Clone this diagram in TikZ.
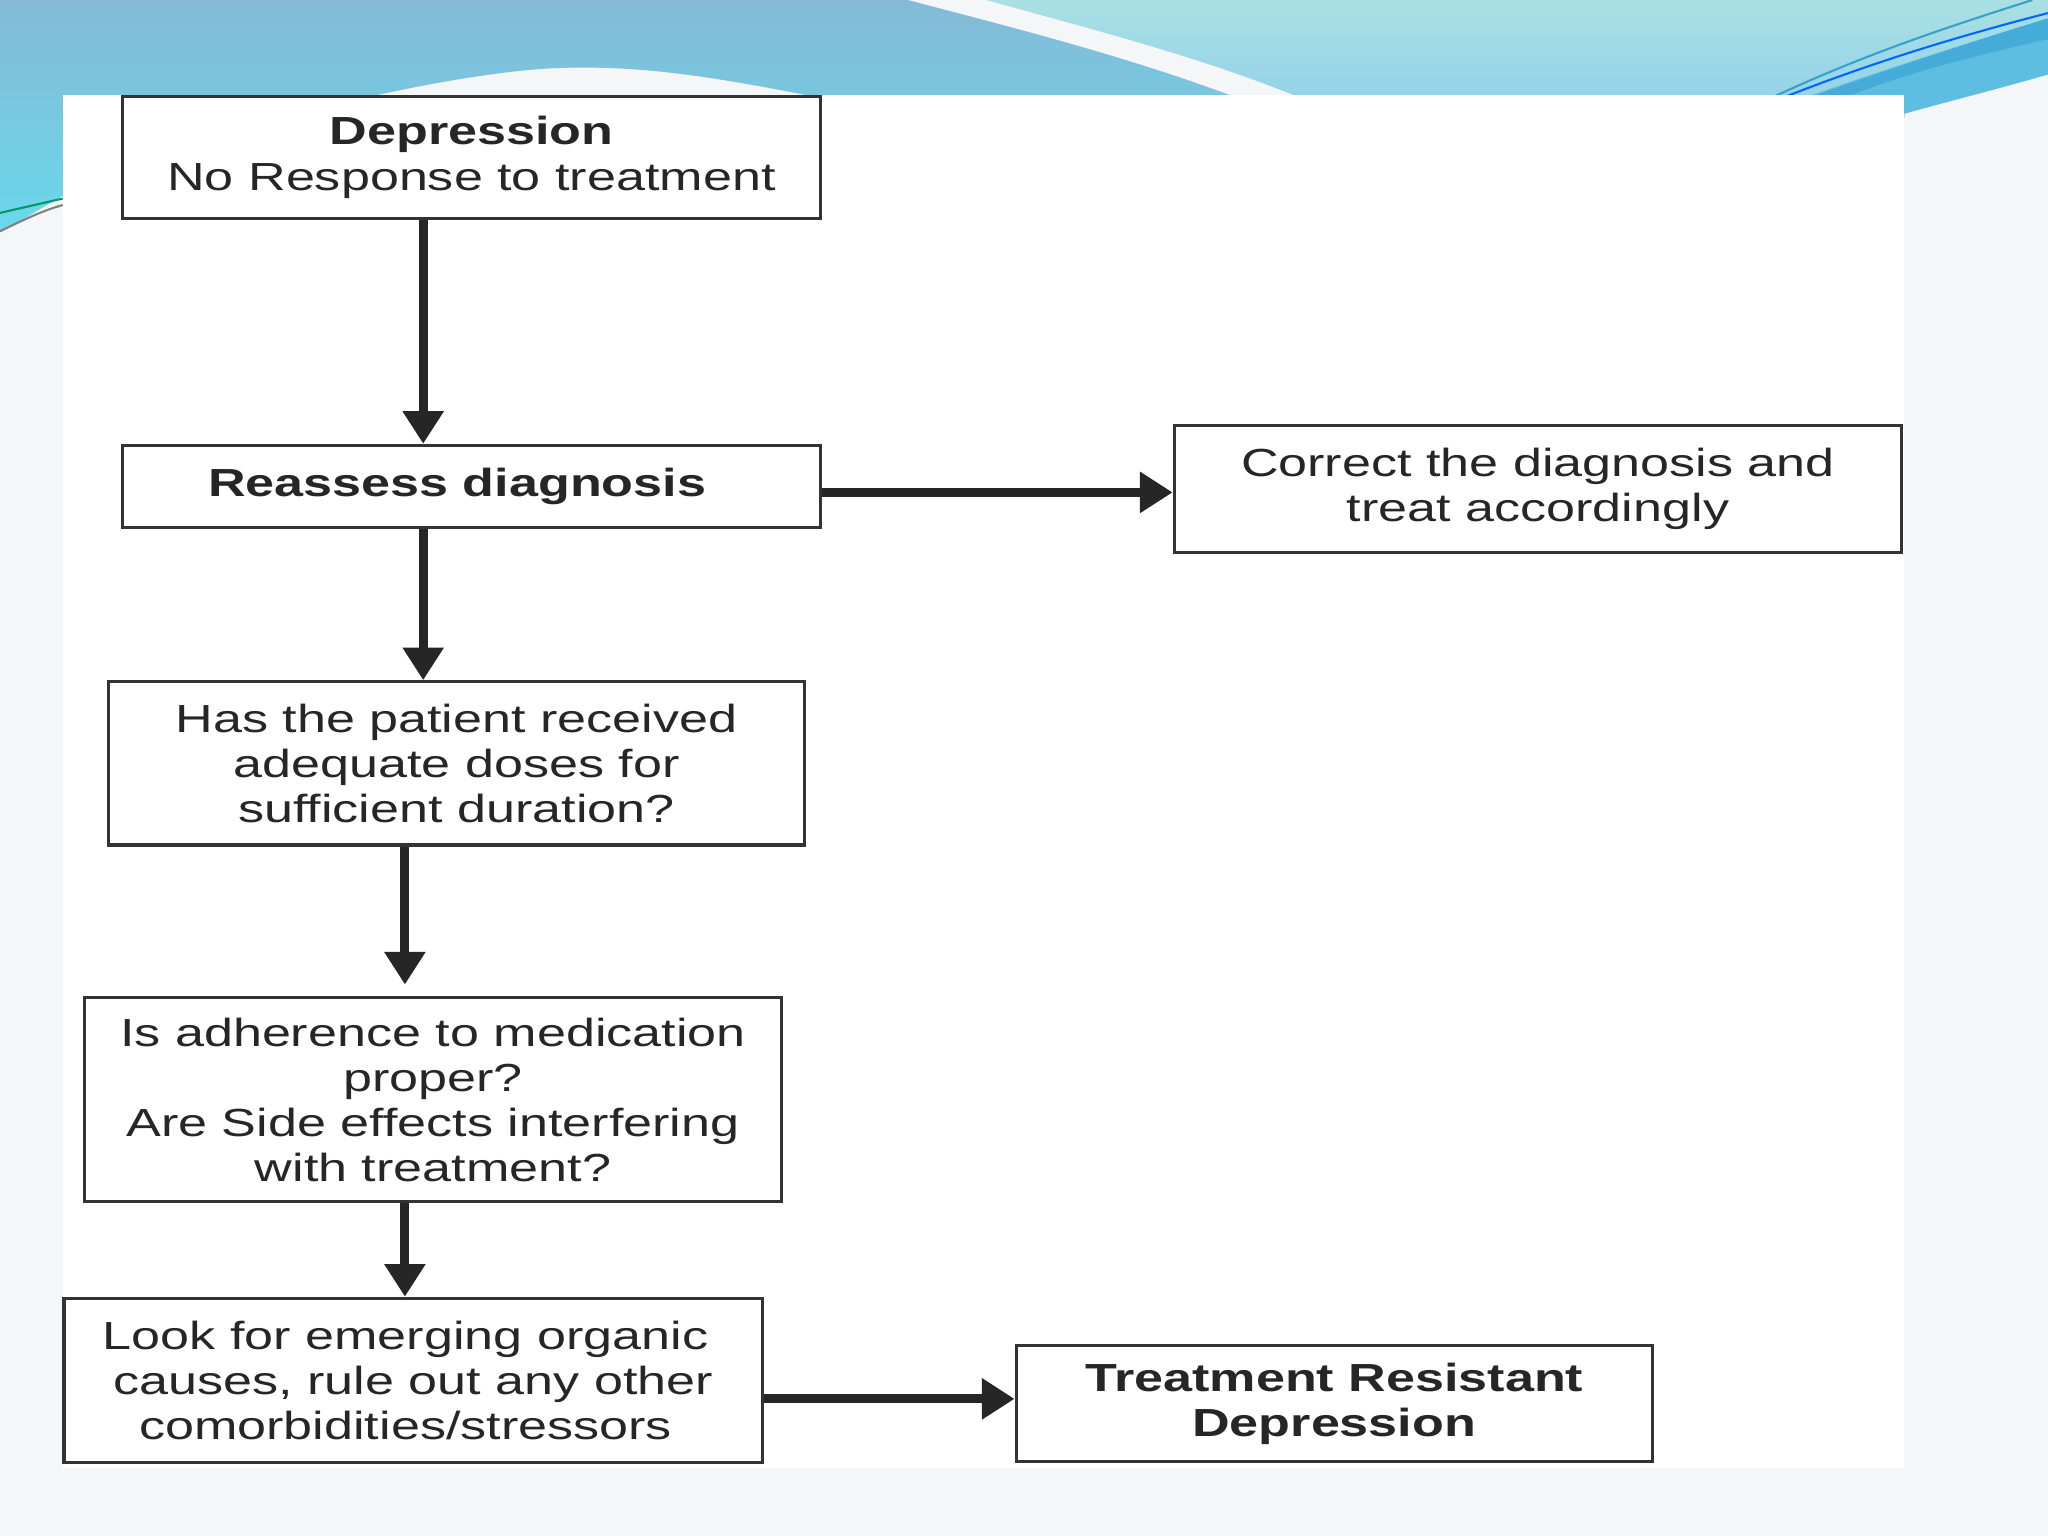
\documentclass[tikz,border=0pt]{standalone}
\usepackage{fontspec}
\setmainfont{Liberation Sans}[FakeStretch=1.33]
\usetikzlibrary{arrows.meta}
\definecolor{slidebg}{HTML}{F4F6F7}
\definecolor{bandtop}{HTML}{84BAD6}
\definecolor{bandlow}{HTML}{6AD8EC}
\definecolor{lighttop}{HTML}{A9E0E3}
\definecolor{lightlow}{HTML}{90D0EA}
\definecolor{wedge}{HTML}{5DBEE1}
\definecolor{wedgedk}{HTML}{45ABD8}
\definecolor{ink}{HTML}{262626}
\definecolor{edge}{HTML}{333333}
\begin{document}
\begin{tikzpicture}[x=0.5pt, y=-0.5pt,
	every node/.append style={text=ink, font=\fontsize{15pt}{17.25pt}\selectfont},
	box/.style={draw=edge, line width=1.2pt, fill=white, align=center, inner sep=0pt},
	flow/.style={line width=3.5pt, color=ink, -{Triangle[width=15pt, length=12.5pt]}}]
\useasboundingbox (0,0) rectangle (1568,1176);
	% slide background
	\fill[slidebg] (0,0) rectangle (1568,1176);
	\shade[top color=bandtop, bottom color=bandlow] (0,0) -- (695,0) .. controls (790,25) and (890,50) .. (985,90) -- (700,90) .. controls (560,60) and (500,50) .. (430,52) .. controls (330,55) and (120,110) .. (48,150) .. controls (30,160) and (15,170) .. (0,178) -- cycle;
	\shade[top color=lighttop, bottom color=lightlow] (755,0) .. controls (845,25) and (945,50) .. (1030,90) -- (1458,90) -- (1458,87) .. controls (1490,78) and (1530,68) .. (1568,57) -- (1568,0) -- cycle;
	\fill[wedge] (1340,90) .. controls (1420,60) and (1500,35) .. (1568,14) -- (1568,57) .. controls (1530,68) and (1490,78) .. (1458,87) -- (1458,90) -- cycle;
	\fill[wedgedk] (1370,80) .. controls (1440,55) and (1510,32) .. (1568,14) -- (1568,30) .. controls (1500,45) and (1440,62) .. (1400,80) -- cycle;
	\draw[line width=0.8pt, color=wedgedk!80!teal] (1354,76) .. controls (1430,40) and (1500,18) .. (1556,0);
	\draw[line width=0.8pt, color=blue!60!cyan] (1362,76) .. controls (1440,45) and (1510,25) .. (1568,10);
	\draw[line width=0.8pt, color=teal!80!green] (0,163) -- (48,152);
	\draw[line width=0.8pt, color=gray] (0,177) .. controls (15,170) and (30,162) .. (48,157);
	\fill[white] (48,73) rectangle (1458,1124);

	% boxes
	\node[box, minimum width=267pt, minimum height=46.5pt] (dep) at (361,120.5) {\textbf{Depression}\\No Response to treatment};
	\node[box, minimum width=267pt, minimum height=31.5pt] (reas) at (361,372.5) {\textbf{Reassess diagnosis}\hspace*{11pt}};
	\node[box, minimum width=278.5pt, minimum height=48.5pt] (corr) at (1177.5,374.5) {Correct the diagnosis and\\treat accordingly};
	\node[box, minimum width=266.5pt, minimum height=62.5pt] (dose) at (349.5,584.5) {Has the patient received\\adequate doses for\\sufficient duration?};
	\node[box, minimum width=266.5pt, minimum height=78pt] (adh) at (331.5,842) {Is adherence to medication\\proper?\\Are Side effects interfering\\with treatment?};
	\node[box, minimum width=267.5pt, minimum height=63pt] (org) at (316.5,1057) {Look for emerging organic\hspace*{6pt}\\causes, rule out any other\hspace*{6pt}\\comorbidities/stressors\hspace*{6pt}};
	\node[box, minimum width=243.5pt, minimum height=44.5pt] (trd) at (1021.5,1074.5) {\textbf{Treatment Resistant}\\\textbf{Depression}};

	% arrows
	\draw[flow] ([xshift=-18.5pt]dep.south) -- ([xshift=-18.5pt]dep.south |- reas.north);
	\draw[flow] ([yshift=-2.25pt]reas.east) -- ([yshift=-2.25pt]reas.east -| corr.west);
	\draw[flow] ([xshift=-18.5pt]reas.south) -- ([xshift=-18.5pt]reas.south |- dose.north);
	\draw[flow, shorten >=4.5pt] ([xshift=-19.75pt]dose.south) -- ([xshift=-19.75pt]dose.south |- adh.north);
	\draw[flow] ([xshift=-10.75pt]adh.south) -- ([xshift=-10.75pt]adh.south |- org.north);
	\draw[flow] ([yshift=-7pt]org.east) -- ([yshift=-7pt]org.east -| trd.west);
\end{tikzpicture}
\end{document}
